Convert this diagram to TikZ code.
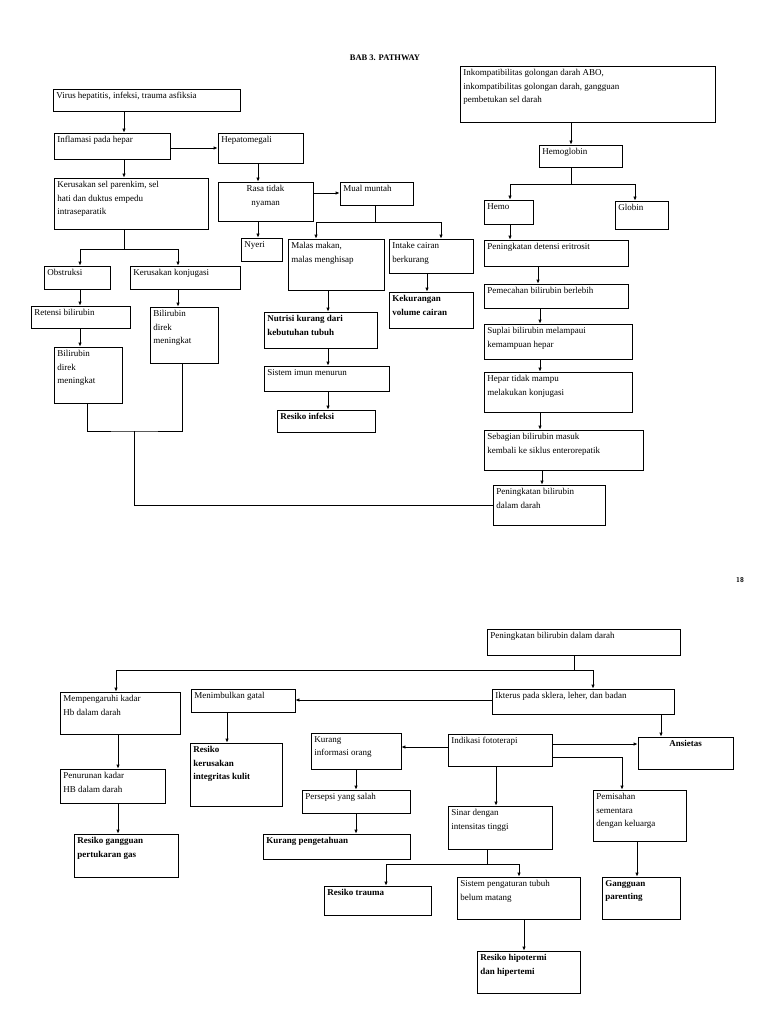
\documentclass[tikz,border=0pt]{standalone}
\usepackage{fontspec}
\setmainfont{Liberation Serif}
\usetikzlibrary{arrows.meta}
\tikzset{
 boxst/.style={draw,line width=0.8pt,inner sep=0pt},
 txt/.style={anchor=north west,align=left,inner sep=3.5pt,font=\fontsize{9}{13.5}\selectfont},
 ctxt/.style={anchor=north,align=center,inner sep=3.5pt,font=\fontsize{9}{13.5}\selectfont},
 bld/.style={font=\fontsize{9}{13.5}\selectfont\bfseries},
 ln/.style={line width=0.8pt},
 arr/.style={line width=0.8pt,-{Latex[length=4pt,width=3.5pt]}}
}
\newcommand\bx[7][]{\node[boxst,minimum width={#5pt-#3pt},minimum height={#6pt-#4pt}] (#2) at ({(#3+#5)/2},{(#4+#6)/2}) {};
 \node[txt,#1] (#2-t) at (#2.north west) {#7};}
\newcommand\bxc[7][]{\node[boxst,minimum width={#5pt-#3pt},minimum height={#6pt-#4pt}] (#2) at ({(#3+#5)/2},{(#4+#6)/2}) {};
 \node[ctxt,#1] (#2-t) at (#2.north) {#7};}
\newcommand\xc[1]{\coordinate (x#1) at (#1,0);}
\begin{document}
\begin{tikzpicture}[x=1pt,y=-1pt]
\useasboundingbox (0,0) rectangle (768,1024);
\node[font=\fontsize{8.5}{10}\selectfont\bfseries] (title) at (385,58) {BAB 3. PATHWAY};
\node[font=\sffamily\fontsize{7}{8}\selectfont\bfseries] (pg) at (740,580) {18};
% top left
\bx{virus}{53}{89}{240}{111}{Virus hepatitis, infeksi, trauma asfiksia}
\bx{inflam}{54}{133}{170}{159}{Inflamasi pada hepar}
\bx{hepato}{218}{133}{303}{163}{Hepatomegali}
\bx{kerus}{54}{178}{208}{229}{Kerusakan sel parenkim, sel\\hati dan duktus empedu\\intraseparatik}
\bxc{rasa}{218}{182}{313}{221}{Rasa tidak\\nyaman}
\bx{mual}{340}{182}{413}{205}{Mual muntah}
\bx{nyeri}{241}{238}{282}{261}{Nyeri}
\bx{malas}{288}{239}{384}{290}{Malas makan,\\malas menghisap}
\bx{intake}{389}{239}{473}{273}{Intake cairan\\berkurang}
\bx[bld]{kekur}{389}{292}{473}{328}{Kekurangan\\volume cairan}
\bx{obst}{44}{266}{110}{289}{Obstruksi}
\bx{konj}{130}{266}{240}{289}{Kerusakan konjugasi}
\bx{reten}{31}{306}{130}{328}{Retensi bilirubin}
\bx{bilL}{54}{347}{122}{403}{Bilirubin\\direk\\meningkat}
\bx{bilR}{150}{307}{218}{363}{Bilirubin\\direk\\meningkat}
\bx[bld]{nutri}{264}{312}{377}{348}{Nutrisi kurang dari\\kebutuhan tubuh}
\bx{imun}{264}{366}{389}{391}{Sistem imun menurun}
\bx[bld]{infek}{277}{410}{375}{432}{Resiko infeksi}
% top right
\bx{inkom}{460}{66}{715}{122}{Inkompatibilitas golongan darah ABO,\\inkompatibilitas golongan darah, gangguan\\pembetukan sel darah}
\bx{hglob}{539}{145}{622}{167}{Hemoglobin}
\bx{hemo}{484}{200}{533}{224}{Hemo}
\bx{globin}{615}{201}{668}{229}{Globin}
\bx{deten}{484}{240}{628}{266}{Peningkatan detensi eritrosit}
\bx{pemec}{484}{284}{628}{308}{Pemecahan bilirubin berlebih}
\bx{supl}{484}{324}{632}{359}{Suplai bilirubin melampaui\\kemampuan hepar}
\bx{hepar}{484}{372}{632}{412}{Hepar tidak mampu\\melakukan konjugasi}
\bx{sebag}{484}{430}{643}{470}{Sebagian bilirubin masuk\\kembali ke siklus enterorepatik}
\bx{penb}{493}{485}{605}{525}{Peningkatan bilirubin\\dalam darah}
% coords
\xc{124}\xc{258}\xc{316}\xc{441}\xc{375}\xc{80}\xc{178}\xc{328}\xc{427}
\xc{571}\xc{510}\xc{635}\xc{538}\xc{540}\xc{542}\xc{87}\xc{182}\xc{134}
\draw[arr] (virus.south -| x124) -- (inflam.north -| x124);
\draw[arr] (inflam.east |- 0,148) -- (hepato.west |- 0,148);
\draw[arr] (inflam.south -| x124) -- (kerus.north -| x124);
\draw[arr] (hepato.south -| x258) -- (rasa.north -| x258);
\draw[arr] (rasa.east |- 0,193) -- (mual.west |- 0,193);
\draw[arr] (rasa.south -| x258) -- (nyeri.north -| x258);
\coordinate (j2) at (375,222);
\draw[ln] (mual.south -| j2) -- (j2);
\draw[arr] (j2) -| (malas.north -| x316);
\draw[arr] (j2) -| (intake.north -| x441);
\coordinate (j3) at (124,249);
\draw[ln] (kerus.south -| j3) -- (j3);
\draw[arr] (j3) -| (obst.north -| x80);
\draw[arr] (j3) -| (konj.north -| x178);
\draw[arr] (obst.south -| x80) -- (reten.north -| x80);
\draw[arr] (reten.south -| x80) -- (bilL.north -| x80);
\draw[arr] (konj.south -| x178) -- (bilR.north -| x178);
\draw[arr] (malas.south -| x328) -- (nutri.north -| x328);
\draw[arr] (nutri.south -| x328) -- (imun.north -| x328);
\draw[arr] (imun.south -| x328) -- (infek.north -| x328);
\draw[arr] (intake.south -| x427) -- (kekur.north -| x427);
\coordinate (j1) at (134,431);
\draw[ln] (bilL.south -| x87) |- (j1) -| (bilR.south -| x182);
\draw[ln] (j1) |- (penb.west);
\draw[arr] (inkom.south -| x571) -- (hglob.north -| x571);
\coordinate (j4) at (571,184);
\draw[ln] (hglob.south -| j4) -- (j4);
\draw[arr] (j4) -| (hemo.north -| x510);
\draw[arr] (j4) -| (globin.north -| x635);
\draw[arr] (hemo.south -| x510) -- (deten.north -| x510);
\draw[arr] (deten.south -| x538) -- (pemec.north -| x538);
\draw[arr] (pemec.south -| x540) -- (supl.north -| x540);
\draw[arr] (supl.south -| x540) -- (hepar.north -| x540);
\draw[arr] (hepar.south -| x540) -- (sebag.north -| x540);
\draw[arr] (sebag.south -| x542) -- (penb.north -| x542);
% bottom
\bx{pb2}{487}{629}{680}{655}{Peningkatan bilirubin dalam darah}
\bx{memp}{60}{692}{180}{734}{Mempengaruhi kadar\\Hb dalam darah}
\bx{gatal}{191}{689}{295}{712}{Menimbulkan gatal}
\bx{ikter}{492}{689}{674}{714}{Ikterus pada sklera, leher, dan badan}
\bxc[bld]{ansi}{638}{737}{733}{769}{Ansietas}
\bx{kinfo}{311}{733}{401}{769}{Kurang\\informasi orang}
\bx{indik}{448}{734}{552}{766}{Indikasi fototerapi}
\bx{penur}{60}{769}{165}{803}{Penurunan kadar\\HB dalam darah}
\bx[bld]{rgang}{74}{834}{178}{877}{Resiko gangguan\\pertukaran gas}
\bx[bld]{rkul}{190}{743}{282}{806}{Resiko\\kerusakan\\integritas kulit}
\bx{persep}{302}{790}{410}{813}{Persepsi yang salah}
\bx[bld]{kpeng}{263}{834}{410}{859}{Kurang pengetahuan}
\bx{sinar}{448}{806}{552}{849}{Sinar dengan\\intensitas tinggi}
\bx[bld]{rtrau}{324}{886}{431}{915}{Resiko trauma}
\bx{sisp}{457}{877}{580}{919}{Sistem pengaturan tubuh\\belum matang}
\bx[bld]{rhipo}{477}{951}{580}{993}{Resiko hipotermi\\dan hipertemi}
\bx{pemis}{593}{790}{686}{841}{Pemisahan\\sementara\\dengan keluarga}
\bx[bld]{gpar}{602}{877}{680}{919}{Gangguan\\parenting}
\xc{574}\xc{116}\xc{593}\xc{661}\xc{118}\xc{227}\xc{356}\xc{622}\xc{496}\xc{386}\xc{519}\xc{524}\xc{637}
\coordinate (j5) at (574,670);
\draw[ln] (pb2.south -| j5) -- (j5);
\draw[arr] (j5) -| (memp.north -| x116);
\draw[arr] (j5) -| (ikter.north -| x593);
\draw[arr] (ikter.west |- 0,700) -- (gatal.east |- 0,700);
\draw[arr] (ikter.south -| x661) -- (ansi.north -| x661);
\draw[arr] (indik.west |- 0,747) -- (kinfo.east |- 0,747);
\draw[arr] (indik.east |- 0,744) -- (ansi.west |- 0,744);
\coordinate (j6) at (622,757);
\draw[ln] (indik.east |- j6) -- (j6);
\draw[arr] (j6) -- (pemis.north -| x622);
\draw[arr] (indik.south -| x496) -- (sinar.north -| x496);
\draw[arr] (memp.south -| x118) -- (penur.north -| x118);
\draw[arr] (penur.south -| x118) -- (rgang.north -| x118);
\draw[arr] (gatal.south -| x227) -- (rkul.north -| x227);
\draw[arr] (kinfo.south -| x356) -- (persep.north -| x356);
\draw[arr] (persep.south -| x356) -- (kpeng.north -| x356);
\coordinate (j7) at (487,864);
\draw[ln] (sinar.south -| j7) -- (j7);
\draw[arr] (j7) -| (rtrau.north -| x386);
\draw[arr] (j7) -| (sisp.north -| x519);
\draw[arr] (sisp.south -| x524) -- (rhipo.north -| x524);
\draw[arr] (pemis.south -| x637) -- (gpar.north -| x637);
\end{tikzpicture}
\end{document}
